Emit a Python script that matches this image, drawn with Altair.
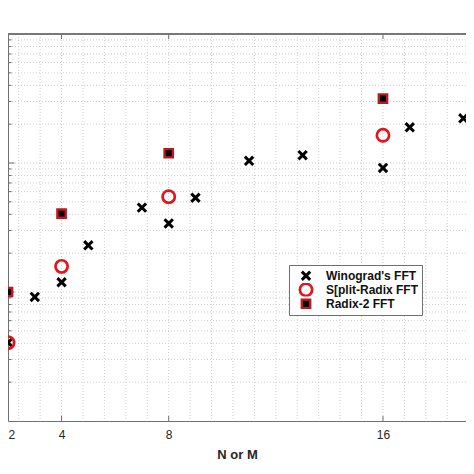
import altair as alt
import pandas as pd

methods = ["Winograd's FFT", "S[plit-Radix FFT", "Radix-2 FFT"]

win_n = [2, 3, 4, 5, 7, 8, 9, 11, 13, 16, 17, 19]
win_v = [4.05, 9.15, 11.9, 23.0, 45.1, 34.0, 53.8, 104.0, 115.0, 91.5, 189.0, 222.0]
split_n = [2, 4, 8, 16]
split_v = [4.05, 15.8, 54.8, 164.0]
radix_n = [2, 4, 8, 16]
radix_v = [10.0, 40.5, 119.0, 316.0]

x_ticks = [2, 4, 8, 16]
x_grid = [2.4, 3.2, 4.0, 4.8, 5.6, 6.4, 7.2, 8.0, 8.8, 9.6, 10.4, 11.2,
          12.0, 12.8, 13.6, 14.4, 15.2, 16.0, 16.8, 17.6, 18.4]
y_minor = [2, 3, 4, 5, 6, 7, 8, 9, 20, 30, 40, 50, 60, 70, 80, 90,
           200, 300, 400, 500, 600, 700, 800, 900]
y_major = [10, 100]
y_grid = y_minor + y_major

W, H = 458, 387
GRAY = "#707070"
GRID = "#cfcfcf"
FONT = "Liberation Sans"

rows = []
for n, v in zip(win_n, win_v):
    rows.append({"N": n, "value": v, "method": methods[0]})
for n, v in zip(split_n, split_v):
    rows.append({"N": n, "value": v, "method": methods[1]})
for n, v in zip(radix_n, radix_v):
    rows.append({"N": n, "value": v, "method": methods[2]})
df = pd.DataFrame(rows)

xs = alt.Scale(domain=[2, 19.1], nice=False, zero=False)
ys = alt.Scale(type="log", domain=[1, 1000], nice=False)

xaxis = alt.Axis(values=x_ticks, ticks=False, grid=False, domainColor=GRAY,
                 labelPadding=8, labelFontSize=12, labelFont=FONT, labelColor="#262626",
                 title="N or M", titleFont=FONT, titleFontSize=13, titleFontWeight="bold",
                 titleColor="#262626", titlePadding=8, labelFlush=True)
yaxis = alt.Axis(labels=False, ticks=False, grid=False, domainColor=GRAY, title="")

xg = pd.DataFrame({"g": x_grid})
yg = pd.DataFrame({"g": y_grid})
xt = pd.DataFrame({"t": x_ticks})
ymin = pd.DataFrame({"t": y_minor})
ymaj = pd.DataFrame({"t": y_major})

vgrid = alt.Chart(xg).mark_rule(color=GRID, strokeDash=[1, 2], strokeWidth=1).encode(
    x=alt.X("g:Q", scale=xs, axis=xaxis))
hgrid = alt.Chart(yg).mark_rule(color=GRID, strokeDash=[1, 2], strokeWidth=1).encode(
    y=alt.Y("g:Q", scale=ys, axis=yaxis))
top_border = alt.Chart(xt).mark_rule(color=GRAY, strokeWidth=1).encode(
    x=alt.value(0), x2=alt.value(W), y=alt.value(0))
top_ticks = alt.Chart(xt).mark_rule(color=GRAY, strokeWidth=1).encode(
    x=alt.X("t:Q", scale=xs, axis=xaxis), y=alt.value(0), y2=alt.value(5))
bot_ticks = alt.Chart(xt).mark_rule(color=GRAY, strokeWidth=1).encode(
    x=alt.X("t:Q", scale=xs, axis=xaxis), y=alt.value(H), y2=alt.value(H - 5))
yminor_ticks = alt.Chart(ymin).mark_rule(color=GRAY, strokeWidth=1).encode(
    y=alt.Y("t:Q", scale=ys, axis=yaxis), x=alt.value(0), x2=alt.value(3.5))
ymajor_ticks = alt.Chart(ymaj).mark_rule(color=GRAY, strokeWidth=1).encode(
    y=alt.Y("t:Q", scale=ys, axis=yaxis), x=alt.value(0), x2=alt.value(6.5))

leg = alt.Legend(title=None, orient="none", legendX=281, legendY=231,
                 padding=4, strokeColor=GRAY, fillColor="white",
                 labelFont=FONT, labelFontWeight="bold", labelFontSize=12,
                 labelColor="#111111", symbolOffset=5, labelOffset=12, rowPadding=0,
                 symbolSize=150, clipHeight=13.5)

# unit-box symbol outlines (scaled by the single mark size)
x_path = "M-0.68,-0.68L0.68,0.68M-0.68,0.68L0.68,-0.68"
o_path = "M1,0A1,1 0 1,1 -1,0A1,1 0 1,1 1,0Z"
s_path = "M-0.68,-0.68L0.68,-0.68L0.68,0.68L-0.68,0.68Z"

points = alt.Chart(df).mark_point(opacity=1, filled=True, size=150).encode(
    x=alt.X("N:Q", scale=xs, axis=xaxis),
    y=alt.Y("value:Q", scale=ys, axis=yaxis),
    shape=alt.Shape("method:N", scale=alt.Scale(domain=methods, range=[x_path, o_path, s_path]), legend=leg),
    stroke=alt.Stroke("method:N", scale=alt.Scale(domain=methods, range=["#000000", "#e3141c", "#b81a1f"]), legend=leg),
    fill=alt.Fill("method:N", scale=alt.Scale(domain=methods, range=["transparent", "transparent", "#000000"]), legend=leg),
    strokeWidth=alt.StrokeWidth("method:N", scale=alt.Scale(domain=methods, range=[3, 2.4, 1.3]), legend=leg),
)

chart = alt.layer(vgrid, hgrid, top_border, top_ticks, bot_ticks, yminor_ticks, ymajor_ticks, points).properties(
    width=W, height=H,
    padding={"left": 0, "top": 26, "right": 0, "bottom": 43},
    autosize=alt.AutoSizeParams(type="none"),
).configure_view(stroke="transparent")

chart.save("out.html", embed_options={"renderer": "svg", "actions": False})
